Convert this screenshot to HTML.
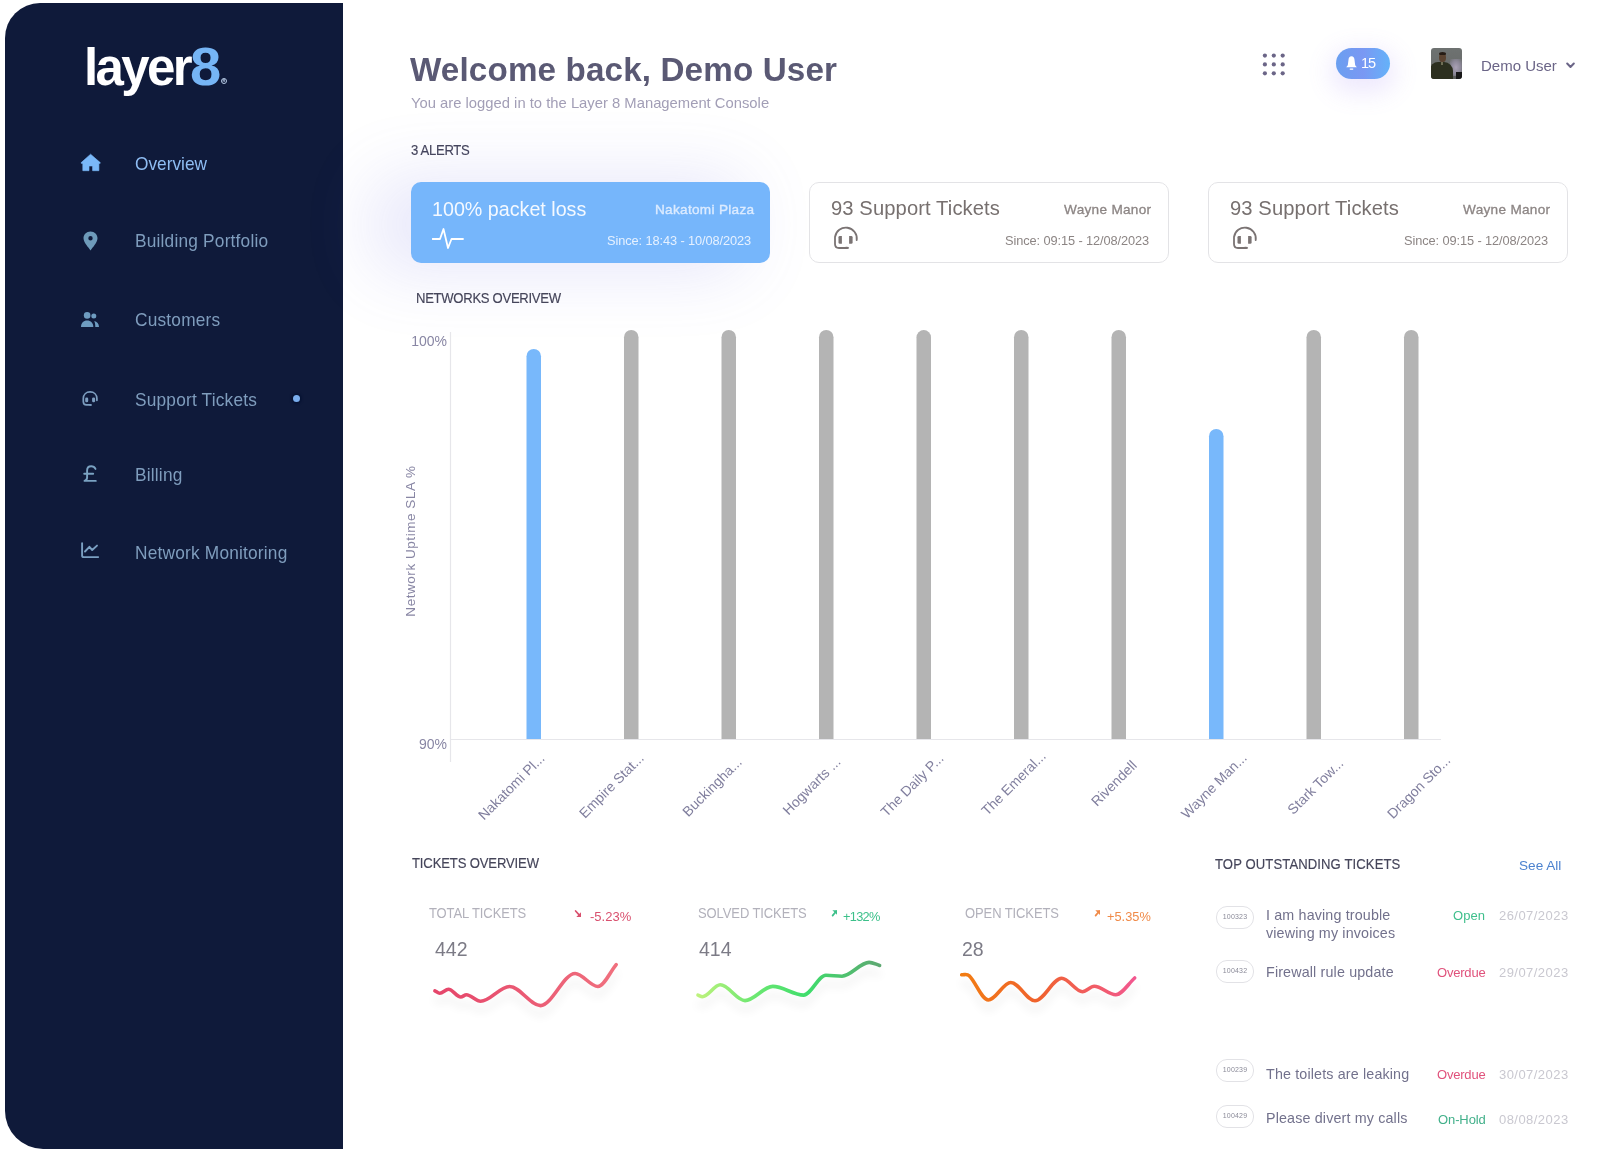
<!DOCTYPE html>
<html><head><meta charset="utf-8">
<style>
*{margin:0;padding:0;box-sizing:border-box}
html,body{width:1619px;height:1152px;overflow:hidden;background:#fff;} .a{will-change:transform} body{font-family:"Liberation Sans",sans-serif}
.a{position:absolute;white-space:nowrap}
#side{position:absolute;left:4.5px;top:3px;width:338.7px;height:1146px;background:#0f1a3a;border-radius:35px 0 0 38px}
.nav{position:absolute;left:135px;font-size:17.3px;color:#7f9dbd;letter-spacing:0.2px;transform:scaleY(1.09);transform-origin:0 78%}
.ico{position:absolute;left:80px}
.ttl{font-size:13.1px;color:#45455a;letter-spacing:-0.3px;transform:scaleY(1.1);transform-origin:0 80%;-webkit-text-stroke:0.15px #45455a}
</style></head><body>
<div id="side"></div>
<!-- logo -->
<div class="a" style="left:84px;top:38px;font-size:51px;font-weight:bold;color:#fff;letter-spacing:-2.6px;line-height:60px">layer<span style="color:#76b5f5;display:inline-block;transform:scale(1.1,1.04);transform-origin:0 80%;margin-left:-0.5px">8</span></div>
<div class="a" style="left:220.5px;top:77.5px;width:6px;height:6px;border:1px solid #b7cbe6;border-radius:50%;font-size:4px;color:#b7cbe6;text-align:center;line-height:4px;font-weight:bold">R</div>

<!-- nav -->
<div class="a nav" style="top:154.3px;color:#8fbdf3;letter-spacing:0">Overview</div>
<div class="a nav" style="top:230.5px">Building Portfolio</div>
<div class="a nav" style="top:310px">Customers</div>
<div class="a nav" style="top:389.5px">Support Tickets</div>
<div class="a nav" style="top:464.5px">Billing</div>
<div class="a nav" style="top:542.5px">Network Monitoring</div>
<div class="a" style="left:293px;top:394.8px;width:7px;height:7px;border-radius:50%;background:#7aaeee;box-shadow:0 0 2px 2px rgba(0,14,48,0.55)"></div>

<!-- header -->
<div class="a" style="left:410px;top:50.5px;font-size:33.2px;font-weight:bold;color:#5a5974;letter-spacing:0.15px">Welcome back, Demo User</div>
<div class="a" style="left:411px;top:95px;font-size:14.8px;color:#a29eb6">You are logged in to the Layer 8 Management Console</div>
<div class="a ttl" style="left:411px;top:143px">3 ALERTS</div>


<!-- nav icons -->
<svg class="a" style="left:0;top:0" width="110" height="180" viewBox="0 0 110 180"><path d="M90.6 154.2 L100.2 162.6 Q100.6 163.4 99.8 163.4 L98.9 163.4 L98.9 170.7 L92.6 170.7 L92.6 166 L89 166 L89 170.7 L82.8 170.7 L82.8 163.4 L81.6 163.4 Q80.8 163.4 81.2 162.6 Z" fill="#7ab8f8" stroke="#7ab8f8" stroke-width="0.6" stroke-linejoin="round"/></svg>
<svg class="a" style="left:83px;top:231px" width="15" height="20" viewBox="0 0 15 20"><path d="M7.5 0.5 C11.6 0.5 14.5 3.5 14.5 7.3 C14.5 11.5 9.5 16.5 7.5 19.5 C5.5 16.5 0.5 11.5 0.5 7.3 C0.5 3.5 3.4 0.5 7.5 0.5 Z M7.5 5 A2.2 2.2 0 1 0 7.5 9.4 A2.2 2.2 0 1 0 7.5 5 Z" fill="#6e9bba" fill-rule="evenodd"/></svg>
<svg class="a" style="left:80px;top:311px" width="20" height="17" viewBox="0 0 20 17"><circle cx="7.15" cy="4.4" r="3.3" fill="#6e9cc0"/><circle cx="13.8" cy="4.9" r="2.5" fill="#6e9cc0"/><path d="M1 15.9 C1 11.8 3.5 9.4 7.15 9.4 C10.8 9.4 13.3 11.8 13.3 15.9 Z" fill="#6e9cc0"/><path d="M14.2 9.9 C17 10.3 19 12.5 19 15.9 L15.3 15.9 C15.3 13.3 15 11.3 14.2 9.9 Z" fill="#6e9cc0"/></svg>
<svg class="a" style="left:70px;top:385px" width="35" height="30" viewBox="70 385 35 30"><path d="M96.9 400.3 L96.9 398.6 C96.9 394.6 94 391.9 90.1 391.9 C86.2 391.9 83.3 394.6 83.3 398.6 L83.3 401.5 C83.3 403.5 84.5 404.9 86.5 404.9 L90.5 404.9" fill="none" stroke="#7d9ec0" stroke-width="1.7" stroke-linecap="round"/><rect x="85.2" y="397.4" width="3" height="4.9" rx="1.3" fill="#7d9ec0"/><rect x="92.1" y="397.4" width="3" height="4.9" rx="1.3" fill="#7d9ec0"/><ellipse cx="90.6" cy="404.9" rx="1.3" ry="0.9" fill="#7d9ec0"/></svg>
<svg class="a" style="left:74px;top:458px" width="32" height="32" viewBox="74 458 32 32"><path d="M95.5 468.9 C94.6 467.1 93 466.3 91.2 466.3 C88.8 466.3 87.1 468 87.1 470.6 L87.1 477.4 C87.1 479.2 86 480.3 84.5 480.9 L95.8 480.9 M84.2 473.7 L93.2 473.7" fill="none" stroke="#7aa2c2" stroke-width="1.9" stroke-linecap="round" stroke-linejoin="round"/></svg>
<svg class="a" style="left:74px;top:535px" width="32" height="32" viewBox="74 535 32 32"><path d="M82.1 543.2 L82.1 555.4 Q82.1 557.1 83.8 557.1 L98.2 557.1" fill="none" stroke="#7ba0c2" stroke-width="1.9" stroke-linecap="round" stroke-linejoin="round"/><path d="M85 551.5 L89.4 546.8 L92.2 550 L97 545.6" fill="none" stroke="#7ba0c2" stroke-width="1.9" stroke-linecap="round" stroke-linejoin="round"/></svg>

<!-- top right -->
<svg class="a" style="left:1261px;top:52px" width="24" height="25" viewBox="0 0 24 25"><g fill="#6b6587"><circle cx="3.9" cy="3.6" r="2.1"/><circle cx="12.8" cy="3.6" r="2.1"/><circle cx="21.7" cy="3.6" r="2.1"/><circle cx="3.9" cy="12.4" r="2.1"/><circle cx="12.8" cy="12.4" r="2.1"/><circle cx="21.7" cy="12.4" r="2.1"/><circle cx="3.9" cy="21.3" r="2.1"/><circle cx="12.8" cy="21.3" r="2.1"/><circle cx="21.7" cy="21.3" r="2.1"/></g></svg>
<div class="a" style="left:1336px;top:48px;width:54px;height:31px;border-radius:16px;background:linear-gradient(90deg,#6a9ff0 0%,#7a98f3 50%,#64b2f9 100%);box-shadow:0 8px 24px 6px rgba(150,120,240,0.16)"></div>
<svg class="a" style="left:1345px;top:55px" width="13" height="16" viewBox="0 0 13 16"><path d="M6.5 1.3 C4.6 1.3 3.7 2.8 3.5 4.8 L2.8 10.2 L1.2 12.2 L11.8 12.2 L10.2 10.2 L9.5 4.8 C9.3 2.8 8.4 1.3 6.5 1.3 Z" fill="#fff"/><rect x="4.6" y="13.4" width="3.8" height="1.4" rx="0.7" fill="#fff"/></svg>
<div class="a" style="left:1361px;top:55px;font-size:14.5px;color:#fff;letter-spacing:-1px">15</div>
<div class="a" style="left:1431px;top:48px;width:31px;height:31px;border-radius:3px;overflow:hidden;background:linear-gradient(180deg,#6e7271 0%,#6a6d6c 50%,#585a58 100%)">
  <div style="position:absolute;left:19px;top:11px;width:12px;height:17px;background:radial-gradient(ellipse at 50% 50%,#aaa2b6 0%,#8c8898 55%,rgba(108,110,112,0) 100%);filter:blur(0.5px)"></div>
  <div style="position:absolute;left:25px;top:24px;width:6px;height:7px;background:#181818;filter:blur(0.6px)"></div>
  <div style="position:absolute;left:-1px;top:13.5px;width:23px;height:19px;border-radius:8px 9px 0 0;background:#2c2f1f;filter:blur(0.3px)"></div>
  <div style="position:absolute;left:9.8px;top:13.5px;width:2.6px;height:3.5px;background:#6f6e56;filter:blur(0.4px)"></div>
  <div style="position:absolute;left:8.3px;top:4.5px;width:6.6px;height:9.5px;border-radius:45%;background:#5b4331;filter:blur(0.4px)"></div>
  <div style="position:absolute;left:8px;top:3.5px;width:7.2px;height:3.6px;border-radius:50% 50% 20% 20%;background:#261c15;filter:blur(0.3px)"></div>
</div>
<div class="a" style="left:1481px;top:57px;font-size:15px;color:#6b6587">Demo User</div>
<svg class="a" style="left:1566px;top:62px" width="9" height="7" viewBox="0 0 9 7"><path d="M1.2 1.5 L4.5 5 L7.8 1.5" fill="none" stroke="#6b6587" stroke-width="2" stroke-linecap="round" stroke-linejoin="round"/></svg>

<!-- alert cards -->
<div class="a" style="left:411px;top:182px;width:359px;height:81px;border-radius:10px;background:#76b6fb;box-shadow:-32px 2px 70px 6px rgba(100,100,225,0.16)"></div>
<div class="a" style="left:432px;top:198px;font-size:19.7px;color:#f4f9ff;letter-spacing:0px">100% packet loss</div>
<div class="a" style="left:655px;top:202px;font-size:13.6px;color:#dcebff;letter-spacing:0.3px;-webkit-text-stroke:0.35px #dcebff">Nakatomi Plaza</div>
<div class="a" style="left:607px;top:233px;font-size:12.8px;color:#e6f1ff;letter-spacing:-0.1px">Since: 18:43 - 10/08/2023</div>
<svg class="a" style="left:432px;top:227px" width="33" height="23" viewBox="0 0 33 23"><path d="M0.5 12 L8 12 L11.5 2 L16 21 L19.5 12 L31 12" fill="none" stroke="#fff" stroke-width="1.8" stroke-linejoin="round" stroke-linecap="round"/></svg>

<div class="a" style="left:809px;top:182px;width:360px;height:81px;border-radius:10px;border:1.5px solid #e3e3e6;background:#fff"></div>
<div class="a" style="left:831px;top:197px;font-size:20.2px;color:#77706f;letter-spacing:0.1px">93 Support Tickets</div>
<div class="a" style="left:1064px;top:202px;font-size:13.6px;color:#8c8584;letter-spacing:0.3px;-webkit-text-stroke:0.3px #8c8584">Wayne Manor</div>
<div class="a" style="left:1005px;top:233px;font-size:12.8px;color:#8c8584;letter-spacing:-0.1px">Since: 09:15 - 12/08/2023</div>
<svg class="a" style="left:828px;top:220px" width="36" height="34" viewBox="0 0 36 34"><path d="M28.7 20.2 A10.7 10.7 0 1 0 7 17 L7 24 Q7 28 11 28 L19 28" fill="none" stroke="#7a7373" stroke-width="1.8" stroke-linecap="round"/><ellipse cx="18.6" cy="27.9" rx="2.5" ry="1.1" fill="#7a7373"/><path d="M13.9 16 L13.9 23.7 L11.8 23.7 Q10.5 23.7 10.5 22.4 L10.5 17.3 Q10.5 16 11.8 16 Z" fill="#7a7373"/><path d="M21.1 16 L21.1 23.7 L23.3 23.7 Q24.6 23.7 24.6 22.4 L24.6 17.3 Q24.6 16 23.3 16 Z" fill="#7a7373"/></svg>

<div class="a" style="left:1208px;top:182px;width:360px;height:81px;border-radius:10px;border:1.5px solid #e3e3e6;background:#fff"></div>
<div class="a" style="left:1230px;top:197px;font-size:20.2px;color:#77706f;letter-spacing:0.1px">93 Support Tickets</div>
<div class="a" style="left:1463px;top:202px;font-size:13.6px;color:#8c8584;letter-spacing:0.3px;-webkit-text-stroke:0.3px #8c8584">Wayne Manor</div>
<div class="a" style="left:1404px;top:233px;font-size:12.8px;color:#8c8584;letter-spacing:-0.1px">Since: 09:15 - 12/08/2023</div>
<svg class="a" style="left:1227px;top:220px" width="36" height="34" viewBox="0 0 36 34"><path d="M28.7 20.2 A10.7 10.7 0 1 0 7 17 L7 24 Q7 28 11 28 L19 28" fill="none" stroke="#7a7373" stroke-width="1.8" stroke-linecap="round"/><ellipse cx="18.6" cy="27.9" rx="2.5" ry="1.1" fill="#7a7373"/><path d="M13.9 16 L13.9 23.7 L11.8 23.7 Q10.5 23.7 10.5 22.4 L10.5 17.3 Q10.5 16 11.8 16 Z" fill="#7a7373"/><path d="M21.1 16 L21.1 23.7 L23.3 23.7 Q24.6 23.7 24.6 22.4 L24.6 17.3 Q24.6 16 23.3 16 Z" fill="#7a7373"/></svg>

<div class="a ttl" style="left:415.5px;top:291px">NETWORKS OVERIVEW</div>

<!-- chart -->
<svg class="a" style="left:0;top:0" width="1619" height="1152" viewBox="0 0 1619 1152">
<line x1="450.5" y1="332" x2="450.5" y2="762" stroke="#e6e6ea" stroke-width="1.2"/>
<line x1="450" y1="739.5" x2="1441" y2="739.5" stroke="#e6e6ea" stroke-width="1.2"/>
<path d="M526.50 739 L526.50 356.25 A7.25 7.25 0 0 1 541.00 356.25 L541.00 739 Z" fill="#78b8fb"/><path d="M624.00 739 L624.00 337.25 A7.25 7.25 0 0 1 638.50 337.25 L638.50 739 Z" fill="#b4b4b4"/><path d="M721.50 739 L721.50 337.25 A7.25 7.25 0 0 1 736.00 337.25 L736.00 739 Z" fill="#b4b4b4"/><path d="M819.00 739 L819.00 337.25 A7.25 7.25 0 0 1 833.50 337.25 L833.50 739 Z" fill="#b4b4b4"/><path d="M916.50 739 L916.50 337.25 A7.25 7.25 0 0 1 931.00 337.25 L931.00 739 Z" fill="#b4b4b4"/><path d="M1014.00 739 L1014.00 337.25 A7.25 7.25 0 0 1 1028.50 337.25 L1028.50 739 Z" fill="#b4b4b4"/><path d="M1111.50 739 L1111.50 337.25 A7.25 7.25 0 0 1 1126.00 337.25 L1126.00 739 Z" fill="#b4b4b4"/><path d="M1209.00 739 L1209.00 436.25 A7.25 7.25 0 0 1 1223.50 436.25 L1223.50 739 Z" fill="#78b8fb"/><path d="M1306.50 739 L1306.50 337.25 A7.25 7.25 0 0 1 1321.00 337.25 L1321.00 739 Z" fill="#b4b4b4"/><path d="M1404.00 739 L1404.00 337.25 A7.25 7.25 0 0 1 1418.50 337.25 L1418.50 739 Z" fill="#b4b4b4"/>
<g font-family="Liberation Sans" font-size="14" fill="#8886a4">
<text x="447" y="346" text-anchor="end">100%</text>
<text x="447" y="749" text-anchor="end">90%</text>
</g>
<text x="0" y="0" font-family="Liberation Sans" font-size="13.5" fill="#8886a4" text-anchor="middle" transform="translate(415.3 541) rotate(-90)" letter-spacing="0.55">Network Uptime SLA %</text>
<g font-family="Liberation Sans" font-size="14" fill="#817f9e">
<text x="511.25" y="786.45" text-anchor="middle" dominant-baseline="central" transform="rotate(-45 511.25 786.45)">Nakatomi Pl...</text><text x="611.35" y="785.40" text-anchor="middle" dominant-baseline="central" transform="rotate(-45 611.35 785.40)">Empire Stat...</text><text x="711.9" y="786.65" text-anchor="middle" dominant-baseline="central" transform="rotate(-45 711.9 786.65)">Buckingha...</text><text x="811.5" y="785.70" text-anchor="middle" dominant-baseline="central" transform="rotate(-45 811.5 785.70)">Hogwarts ...</text><text x="912.0" y="784.80" text-anchor="middle" dominant-baseline="central" transform="rotate(-45 912.0 784.80)">The Daily P...</text><text x="1013.45" y="783.10" text-anchor="middle" dominant-baseline="central" transform="rotate(-45 1013.45 783.10)">The Emeral...</text><text x="1113.85" y="783.10" text-anchor="middle" dominant-baseline="central" transform="rotate(-45 1113.85 783.10)">Rivendell</text><text x="1213.75" y="785.50" text-anchor="middle" dominant-baseline="central" transform="rotate(-45 1213.75 785.50)">Wayne Man...</text><text x="1315.3" y="786.10" text-anchor="middle" dominant-baseline="central" transform="rotate(-45 1315.3 786.10)">Stark Tow...</text><text x="1418.6" y="786.80" text-anchor="middle" dominant-baseline="central" transform="rotate(-45 1418.6 786.80)">Dragon Sto...</text>
</g>
</svg>

<!-- tickets overview -->
<div class="a ttl" style="left:412px;top:856px;letter-spacing:-0.15px">TICKETS OVERVIEW</div>
<div class="a" style="left:429px;top:906px;font-size:13px;color:#b2b1bb;transform:scaleY(1.1);transform-origin:0 80%;letter-spacing:-0.1px">TOTAL TICKETS</div>
<div class="a" style="left:698px;top:906px;font-size:13px;color:#b2b1bb;transform:scaleY(1.1);transform-origin:0 80%;letter-spacing:-0.1px">SOLVED TICKETS</div>
<div class="a" style="left:965px;top:906px;font-size:13px;color:#b2b1bb;transform:scaleY(1.1);transform-origin:0 80%;letter-spacing:-0.1px">OPEN TICKETS</div>
<div class="a" style="left:589.5px;top:908.5px;font-size:13px;color:#d9506e">-5.23%</div>
<div class="a" style="left:843px;top:908.5px;font-size:12.8px;color:#3cc08a;letter-spacing:-0.7px">+132%</div>
<div class="a" style="left:1106.5px;top:908.5px;font-size:12.8px;color:#f08a48">+5.35%</div>
<div class="a" style="left:435px;top:938px;font-size:19.5px;color:#7c7b86">442</div>
<div class="a" style="left:699px;top:938px;font-size:19.5px;color:#7c7b86">414</div>
<div class="a" style="left:962px;top:938px;font-size:19.5px;color:#7c7b86">28</div>
<svg class="a" style="left:0;top:0" width="1619" height="1152" viewBox="0 0 1619 1152">
<defs>
<linearGradient id="g1" x1="434" x2="617" y1="0" y2="0" gradientUnits="userSpaceOnUse"><stop offset="0" stop-color="#e5456a"/><stop offset="1" stop-color="#f0707e"/></linearGradient>
<linearGradient id="g2" x1="698" x2="880" y1="0" y2="0" gradientUnits="userSpaceOnUse"><stop offset="0" stop-color="#bdf27c"/><stop offset="0.3" stop-color="#6ee872"/><stop offset="0.6" stop-color="#3fdd6c"/><stop offset="1" stop-color="#5ea872"/></linearGradient>
<linearGradient id="g3" x1="961" x2="1135" y1="0" y2="0" gradientUnits="userSpaceOnUse"><stop offset="0" stop-color="#f27d12"/><stop offset="0.45" stop-color="#f0622e"/><stop offset="1" stop-color="#f25890"/></linearGradient>
<filter id="sh" x="-20%" y="-50%" width="140%" height="250%"><feGaussianBlur stdDeviation="5"/></filter>
</defs>
<g fill="none" stroke-width="3.6" stroke-linecap="round">
<path d="M434.9 990.8 C436.5 991.6 438.2 993.3 439.8 993.3 C442.7 993.3 445.6 989.3 448.5 989.3 C452.6 989.3 456.7 997.0 460.8 997.0 C462.7 997.0 464.5 994.8 466.4 994.8 C471.1 994.8 475.9 1001.3 480.6 1001.3 C490.3 1001.3 499.9 986.5 509.6 986.5 C519.9 986.5 530.2 1005.6 540.5 1005.6 C552.0 1005.6 563.6 973.5 575.1 973.5 C582.7 973.5 590.3 986.5 597.9 986.5 C604.0 986.5 610.1 971.9 616.2 964.6" stroke="#000" opacity="0.075" transform="translate(0 9)" filter="url(#sh)"/>
<path d="M698.0 995.1 C699.5 995.6 700.9 996.7 702.4 996.7 C708.4 996.7 714.3 984.8 720.3 984.8 C728.5 984.8 736.8 1000.6 745.0 1000.6 C754.3 1000.6 763.5 986.4 772.8 986.4 C783.1 986.4 793.3 995.1 803.6 995.1 C811.0 995.1 818.5 975.3 825.9 975.3 C831.3 975.3 836.6 976.2 842.0 976.2 C851.0 976.2 860.1 962.4 869.1 962.4 C872.6 962.4 876.1 964.4 879.6 965.4" stroke="#000" opacity="0.075" transform="translate(0 9)" filter="url(#sh)"/>
<path d="M961.7 974.7 C964.2 975.1 966.7 973.4 969.2 975.8 C975.6 981.9 981.9 1000.0 988.3 1000.0 C995.8 1000.0 1003.3 982.5 1010.8 982.5 C1018.9 982.5 1026.9 1000.8 1035.0 1000.8 C1043.9 1000.8 1052.8 978.3 1061.7 978.3 C1068.6 978.3 1075.6 991.7 1082.5 991.7 C1086.4 991.7 1090.3 986.3 1094.2 986.3 C1101.4 986.3 1108.6 994.7 1115.8 994.7 C1122.1 994.7 1128.4 983.6 1134.7 978.0" stroke="#000" opacity="0.075" transform="translate(0 9)" filter="url(#sh)"/>
<path d="M434.9 990.8 C436.5 991.6 438.2 993.3 439.8 993.3 C442.7 993.3 445.6 989.3 448.5 989.3 C452.6 989.3 456.7 997.0 460.8 997.0 C462.7 997.0 464.5 994.8 466.4 994.8 C471.1 994.8 475.9 1001.3 480.6 1001.3 C490.3 1001.3 499.9 986.5 509.6 986.5 C519.9 986.5 530.2 1005.6 540.5 1005.6 C552.0 1005.6 563.6 973.5 575.1 973.5 C582.7 973.5 590.3 986.5 597.9 986.5 C604.0 986.5 610.1 971.9 616.2 964.6" stroke="url(#g1)"/>
<path d="M698.0 995.1 C699.5 995.6 700.9 996.7 702.4 996.7 C708.4 996.7 714.3 984.8 720.3 984.8 C728.5 984.8 736.8 1000.6 745.0 1000.6 C754.3 1000.6 763.5 986.4 772.8 986.4 C783.1 986.4 793.3 995.1 803.6 995.1 C811.0 995.1 818.5 975.3 825.9 975.3 C831.3 975.3 836.6 976.2 842.0 976.2 C851.0 976.2 860.1 962.4 869.1 962.4 C872.6 962.4 876.1 964.4 879.6 965.4" stroke="url(#g2)"/>
<path d="M961.7 974.7 C964.2 975.1 966.7 973.4 969.2 975.8 C975.6 981.9 981.9 1000.0 988.3 1000.0 C995.8 1000.0 1003.3 982.5 1010.8 982.5 C1018.9 982.5 1026.9 1000.8 1035.0 1000.8 C1043.9 1000.8 1052.8 978.3 1061.7 978.3 C1068.6 978.3 1075.6 991.7 1082.5 991.7 C1086.4 991.7 1090.3 986.3 1094.2 986.3 C1101.4 986.3 1108.6 994.7 1115.8 994.7 C1122.1 994.7 1128.4 983.6 1134.7 978.0" stroke="url(#g3)"/>
</g>
<!-- arrows -->
<g stroke-width="1.4" fill="none" stroke-linecap="round">
<path d="M575.6 911 L579.8 915.6" stroke="#d9506e" stroke-width="1.7"/><path d="M576.3 917 L581 917 L581 912.3 Z" stroke="none" fill="#d9506e"/>
<path d="M832.6 915.6 L836.2 911.2" stroke="#3cc08a" stroke-width="1.7"/><path d="M832.4 910.2 L837 910.2 L837 914.8 Z" stroke="none" fill="#3cc08a"/>
<path d="M1095.6 915.6 L1099.2 911.2" stroke="#f08a48" stroke-width="1.7"/><path d="M1095.3 910.2 L1100 910.2 L1100 914.9 Z" stroke="none" fill="#f08a48"/>
</g>
</svg>

<!-- top outstanding -->
<div class="a ttl" style="left:1215px;top:857px;letter-spacing:0.1px">TOP OUTSTANDING TICKETS</div>
<div class="a" style="left:1519px;top:857.5px;font-size:13.6px;color:#4c82cf">See All</div>
<div class="a" style="left:1216px;top:905.5px;width:38px;height:22.5px;border:1.3px solid #e2e2e6;border-radius:11px;font-size:7px;color:#8a8a98;text-align:center;line-height:19px;letter-spacing:0.2px;padding-top:0">100323</div>
<div class="a" style="left:1266px;top:906.0px;font-size:14.3px;line-height:18.1px;color:#72718c;letter-spacing:0.15px">I am having trouble<br>viewing my invoices</div>
<div class="a" style="right:133.5px;top:907.9px;font-size:13px;color:#3fbf8c;letter-spacing:0.1px">Open</div>
<div class="a" style="left:1499px;top:907.9px;font-size:13px;color:#c9c8d0;letter-spacing:0.45px">26/07/2023</div>
<div class="a" style="left:1216px;top:959.6px;width:38px;height:22.5px;border:1.3px solid #e2e2e6;border-radius:11px;font-size:7px;color:#8a8a98;text-align:center;line-height:19px;letter-spacing:0.2px;padding-top:0">100432</div>
<div class="a" style="left:1266px;top:962.9px;font-size:14.3px;line-height:18.1px;color:#72718c;letter-spacing:0.15px">Firewall rule update</div>
<div class="a" style="right:133.5px;top:965.4px;font-size:13px;color:#e0527c;letter-spacing:-0.2px">Overdue</div>
<div class="a" style="left:1499px;top:965.4px;font-size:13px;color:#c9c8d0;letter-spacing:0.45px">29/07/2023</div>
<div class="a" style="left:1216px;top:1059.4px;width:38px;height:22.5px;border:1.3px solid #e2e2e6;border-radius:11px;font-size:7px;color:#8a8a98;text-align:center;line-height:19px;letter-spacing:0.2px;padding-top:0">100239</div>
<div class="a" style="left:1266px;top:1064.6px;font-size:14.3px;line-height:18.1px;color:#72718c;letter-spacing:0.15px">The toilets are leaking</div>
<div class="a" style="right:133.5px;top:1067.0px;font-size:13px;color:#e0527c;letter-spacing:-0.2px">Overdue</div>
<div class="a" style="left:1499px;top:1067.0px;font-size:13px;color:#c9c8d0;letter-spacing:0.45px">30/07/2023</div>
<div class="a" style="left:1216px;top:1104.7px;width:38px;height:22.5px;border:1.3px solid #e2e2e6;border-radius:11px;font-size:7px;color:#8a8a98;text-align:center;line-height:19px;letter-spacing:0.2px;padding-top:0">100429</div>
<div class="a" style="left:1266px;top:1108.6px;font-size:14.3px;line-height:18.1px;color:#72718c;letter-spacing:0.15px">Please divert my calls</div>
<div class="a" style="right:133.5px;top:1111.5px;font-size:13px;color:#42b08a;letter-spacing:-0.1px">On-Hold</div>
<div class="a" style="left:1499px;top:1111.5px;font-size:13px;color:#c9c8d0;letter-spacing:0.45px">08/08/2023</div>
</body></html>
